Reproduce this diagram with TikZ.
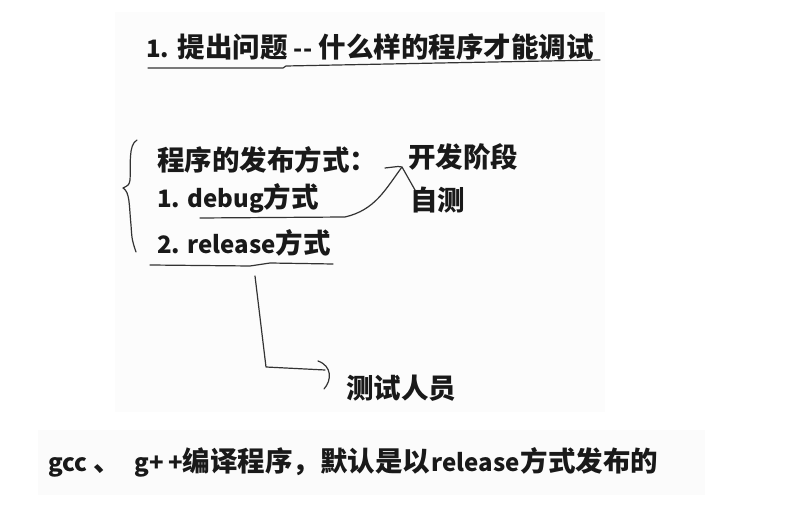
\documentclass[tikz,border=0pt]{standalone}
\usepackage{fontspec}
\setmainfont{Noto Sans CJK SC}
\newcommand\lt[1]{{\fontsize{24}{30}\selectfont #1}}
\begin{document}
\begin{tikzpicture}[x=1pt,y=-1pt,
  txt/.style={anchor=west,inner sep=0pt,font=\fontsize{27.5}{32}\selectfont\bfseries,text=black!90},
  hand/.style={draw=black!80,line width=1.2pt,line cap=round,line join=round}]
\useasboundingbox (0,0) rectangle (785,510);
\fill[black!1] (115,12) rectangle (605,412);
\fill[black!1.5] (38,430) rectangle (705,495);
% texts
\node[txt] (title) at (146,47) {\lt{1.} 提出问题 \lt{{-}{-}} 什么样的程序才能调试};
\node[txt] (mode) at (157,160) {程序的发布方式：};
\node[txt] (debug) at (157,198) {\lt{1. debug}方式};
\node[txt] (release) at (157,243) {\lt{2. release}方式};
\node[txt] (dev) at (408,157) {开发阶段};
\node[txt] (self) at (410,200) {自测};
\node[txt] (tester) at (346,388) {测试人员};
\node[txt] (gcc) at (48,462) {\lt{gcc}\hspace{6pt}、\hspace{14pt}\lt{g+\hspace{4pt}+}编译程序，默认是以\lt{\hspace{1pt}release\hspace{1pt}}方式发布的};
% title underline
\draw[hand] (148,68) -- (283,68) -- (286,66) -- (440,63) -- (600,60);
% brace
\draw[hand] (137,140) .. controls (128,145) and (131,165) .. (130,180) .. controls (129,185) .. (123,188)
  .. controls (130,192) and (129,205) .. (131,225) .. controls (132,240) .. (136,252);
% debug underline and arrow
\coordinate (peak) at (402,167);
\draw[hand] (200,218) -- (345,217) .. controls (375,210) and (385,190) .. (peak);
\draw[hand] (385,168) -- (398,166.5) -- (peak) -- (415,190);
% release underline
\draw[hand] (150,265) -- (250,266) -- (270,263) -- (333,264);
% connector to tester
\draw[hand] (255,276) -- (266,367) -- (325,370);
\draw[hand] (318,361) .. controls (332,366) and (332,380) .. (324,389);
\end{tikzpicture}
\end{document}
